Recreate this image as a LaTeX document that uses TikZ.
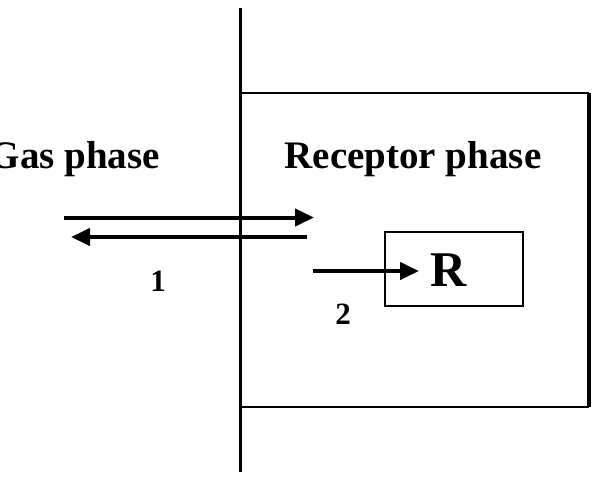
\documentclass[tikz,border=0pt]{standalone}
\usepackage{fontspec}
\setmainfont{Liberation Serif}
\usetikzlibrary{arrows.meta}
\begin{document}
\begin{tikzpicture}[x=1pt,y=-1pt,
  lbl/.style={font=\fontsize{39}{39}\selectfont\bfseries, inner sep=0pt},
  num/.style={font=\fontsize{31}{31}\selectfont\bfseries, inner sep=0pt},
  wall/.style={line width=2.6pt},
  flow/.style={line width=4pt, -{Triangle[length=19pt,width=17pt]}},
  rbox/.style={draw, line width=2.6pt, minimum width=138pt, minimum height=74pt, inner sep=0pt,
    font=\fontsize{50}{50}\selectfont\bfseries}]
\useasboundingbox (0,0) rectangle (611,482);
% membrane line
\coordinate (mtop) at (240.5,8);
\coordinate (mbot) at (240.5,472);
\draw[wall] (mtop) -- (mbot);
% receptor phase box
\coordinate (bTL) at (240.5,93);
\coordinate (bTR) at (589,93);
\coordinate (bBR) at (589,407);
\coordinate (bBL) at (240.5,407);
\draw[wall] (bTL) -- (bTR);
\draw[line width=4pt] (bTR) -- (bBR);
\draw[wall] (bBR) -- (bBL);
% labels
\node[lbl, anchor=base east] (gas) at (160,168) {Gas phase};
\node[lbl, anchor=base] (rec) at (413,168) {Receptor phase};
% R box
\node[rbox] (R) at (454,269) {};
\node[font=\fontsize{50}{50}\selectfont\bfseries, inner sep=0pt] (Rl) at (449,270) {R};
% arrows
\coordinate (a1s) at (64,217.5);
\coordinate (a1e) at (314,217.5);
\coordinate (a2s) at (307,237);
\coordinate (a2e) at (71,237);
\coordinate (a3s) at (313,271);
\coordinate (a3e) at (419,271);
\draw[flow] (a1s) -- (a1e);
\draw[flow] (a2s) -- (a2e);
\draw[flow] (a3s) -- (a3e);
\node[num] (n1) at (158,281) {1};
\node[num] (n2) at (343,314) {2};
\end{tikzpicture}
\end{document}
